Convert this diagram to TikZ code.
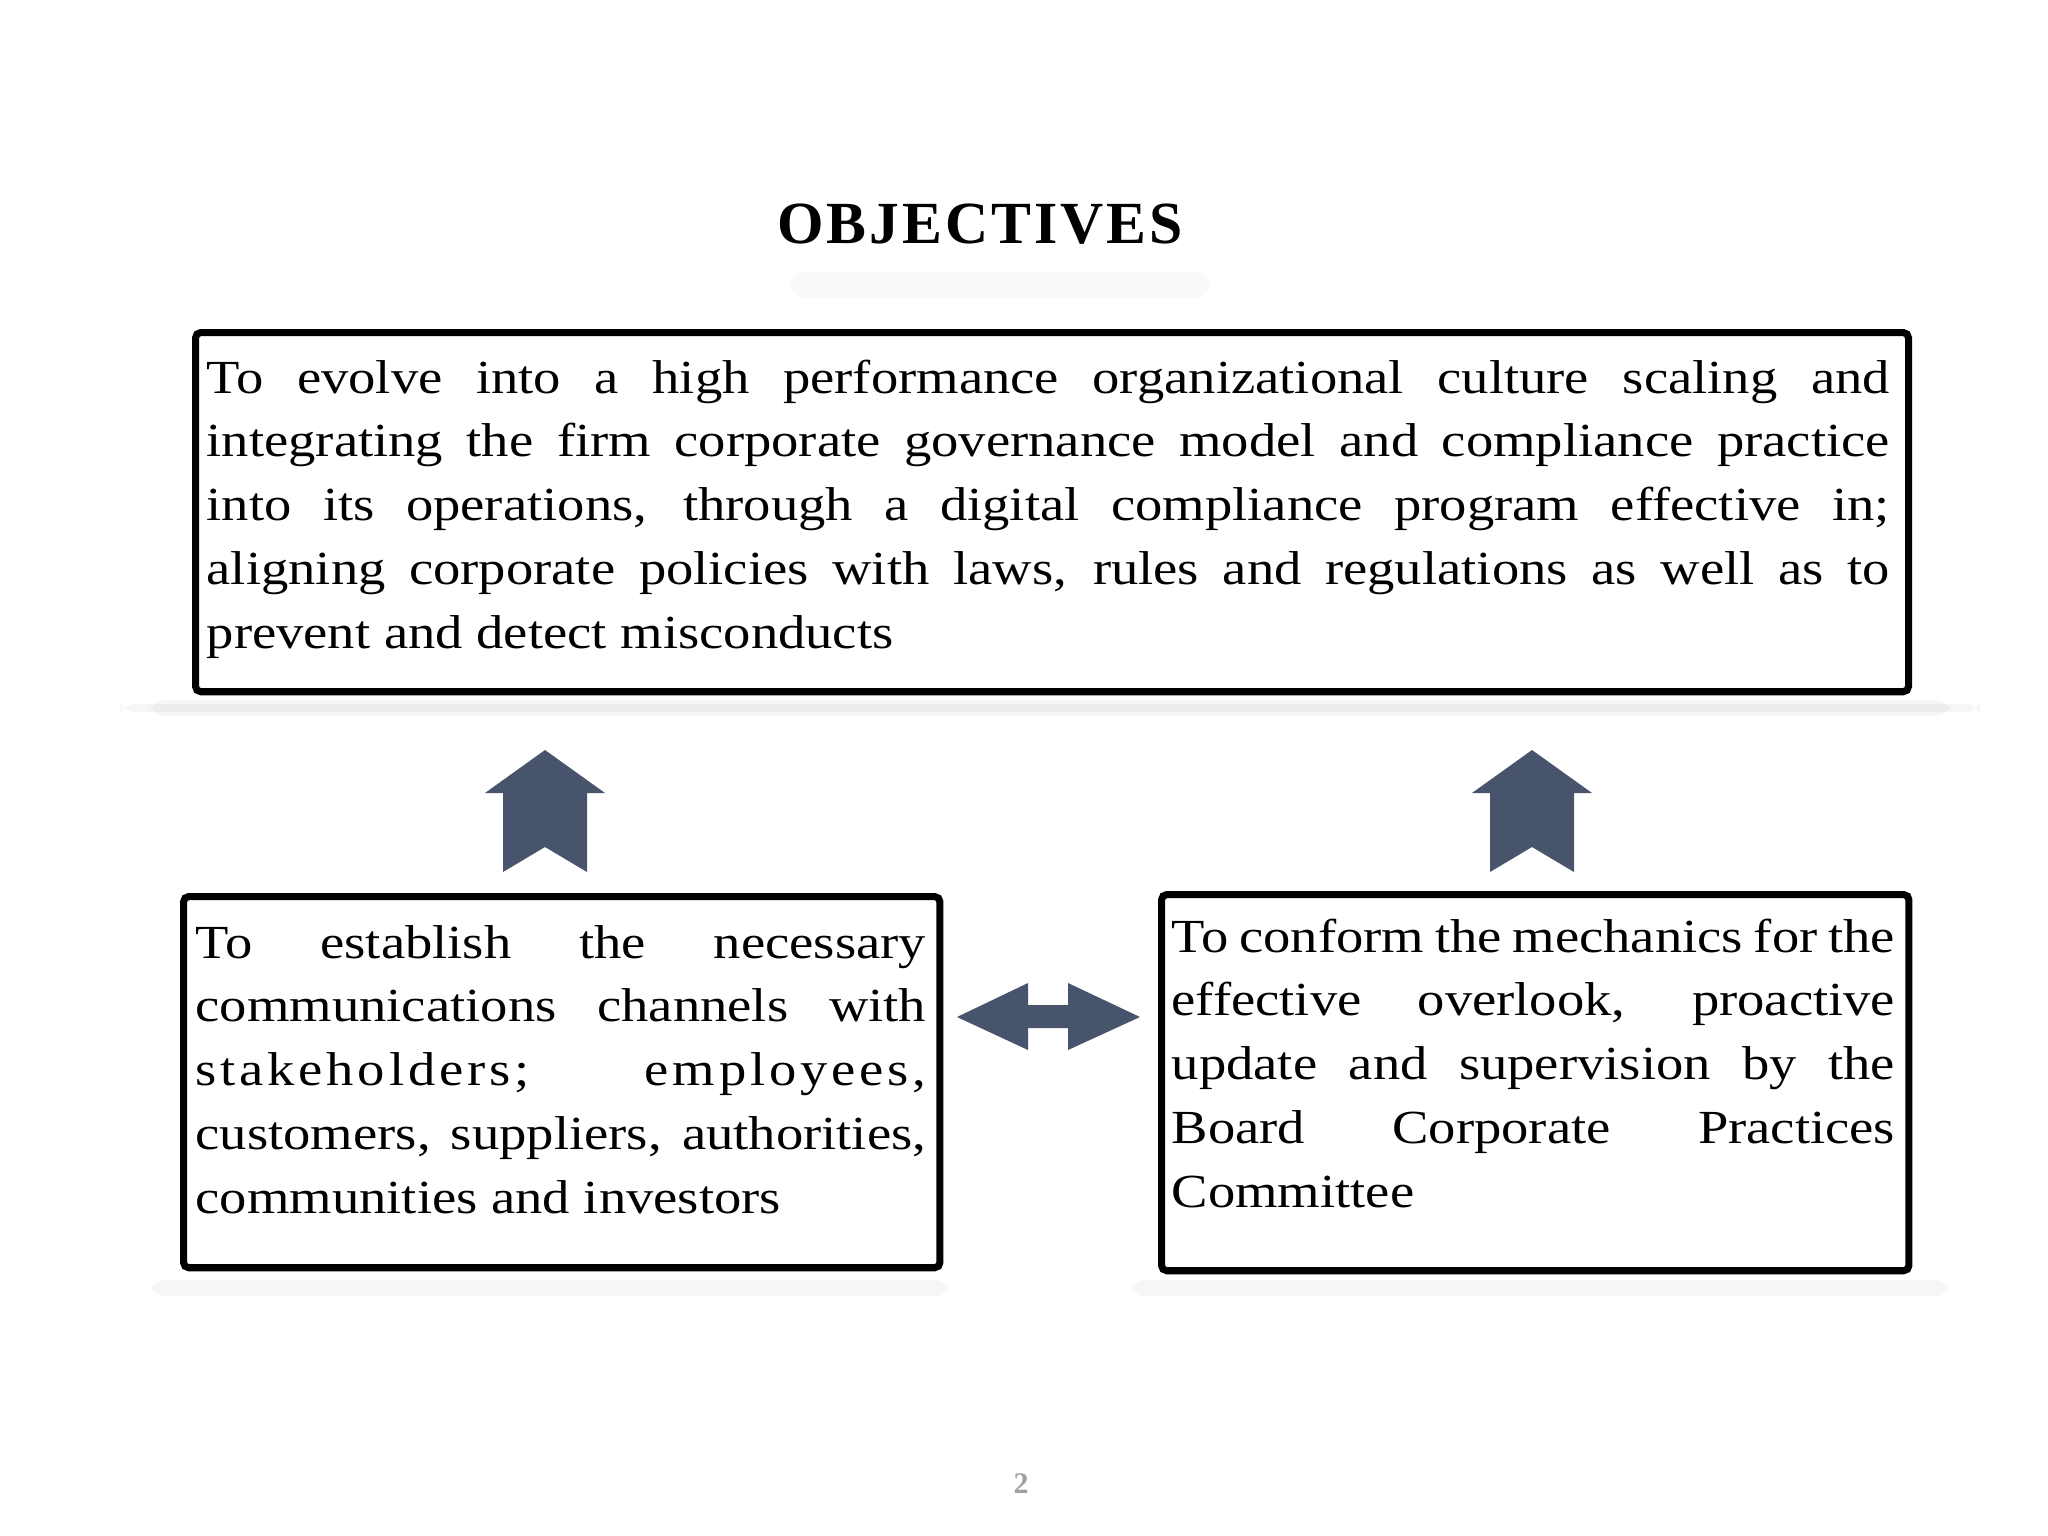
\documentclass[tikz,border=0pt]{standalone}
\usepackage{fontspec}
\setmainfont[FakeStretch=1.15]{Liberation Serif}
\newfontfamily\titlefont{Liberation Serif}
\definecolor{arrowc}{RGB}{72,84,108}
\definecolor{pagegray}{RGB}{160,160,160}
\tolerance=10000
\hbadness=10000
\begin{document}
\begin{tikzpicture}[x=0.01cm,y=-0.01cm,
  framebox/.style={draw=black,line width=2pt,rounded corners=1.5pt,fill=white,inner sep=0pt,anchor=north west},
  bodytext/.style={inner sep=0pt,anchor=base west,font=\fontsize{13.5}{18.14}\selectfont},
  arrowshape/.style={fill=arrowc,draw=none},
  softshadow/.style={fill=black,opacity=0.035,draw=none,rounded corners=4pt}]
\useasboundingbox (0,0) rectangle (2048,1536);
\fill[white] (0,0) rectangle (2048,1536);

% title
\node[inner sep=0pt,anchor=base,font=\titlefont\fontsize{17}{20}\selectfont\bfseries\addfontfeature{LetterSpace=5}] (title) at (980,243) {OBJECTIVES};
\fill[softshadow,opacity=0.02] (790,272) rectangle (1210,298);

% faint reflections
\fill[softshadow] (150,700) rectangle (1950,716);
\fill[softshadow] (120,704) rectangle (1980,712);
\fill[softshadow] (150,1280) rectangle (950,1296);
\fill[softshadow] (1130,1280) rectangle (1950,1296);

% boxes
\node[framebox,minimum width=17.12cm,minimum height=3.59cm] (top) at (192,329) {};
\node[framebox,minimum width=7.56cm,minimum height=3.71cm] (bl) at (180,893) {};
\node[framebox,minimum width=7.47cm,minimum height=3.76cm] (br) at (1158,891) {};

% texts
\node[bodytext] (toptext) at (206,393) {\parbox[t]{16.82cm}{%
To evolve into a high performance organizational culture scaling and\linebreak
integrating the firm corporate governance model and compliance practice\linebreak
into its operations, through a digital compliance program effective in;\linebreak
aligning corporate policies with laws, rules and regulations as well as to\linebreak
prevent and detect misconducts}};

\node[bodytext] (bltext) at (195,958) {\parbox[t]{7.30cm}{%
To establish the necessary\linebreak
communications channels with\linebreak
{\addfontfeature{LetterSpace=8}stakeholders;} {\addfontfeature{LetterSpace=8}employees,}\linebreak
customers, suppliers, authorities,\linebreak
communities and investors}};

\node[bodytext] (brtext) at (1171,952) {\parbox[t]{7.23cm}{%
To conform the mechanics for the\linebreak
effective overlook, proactive\linebreak
update and supervision by the\linebreak
Board Corporate Practices\linebreak
Committee}};

% up arrows
\coordinate (ua) at (545,750);
\coordinate (ub) at (1532,750);
\foreach \c in {ua,ub}{
  \fill[arrowshape] (\c) -- ++(60,43) -- ++(-18,0) -- ++(0,79) -- ++(-42,-25) -- ++(-42,25) -- ++(0,-79) -- ++(-18,0) -- cycle;
}

% double arrow
\coordinate (da) at (957,1017);
\fill[arrowshape] (da) -- ++(71,-34) -- ++(0,22) -- ++(40,0) -- ++(0,-22) -- ++(72,34) -- ++(-72,33) -- ++(0,-22) -- ++(-40,0) -- ++(0,22) -- cycle;

% page number
\node[inner sep=0pt,anchor=base,text=pagegray,font=\titlefont\fontsize{8.5}{10}\selectfont\bfseries] (pnum) at (1021,1493) {2};
\end{tikzpicture}
\end{document}
